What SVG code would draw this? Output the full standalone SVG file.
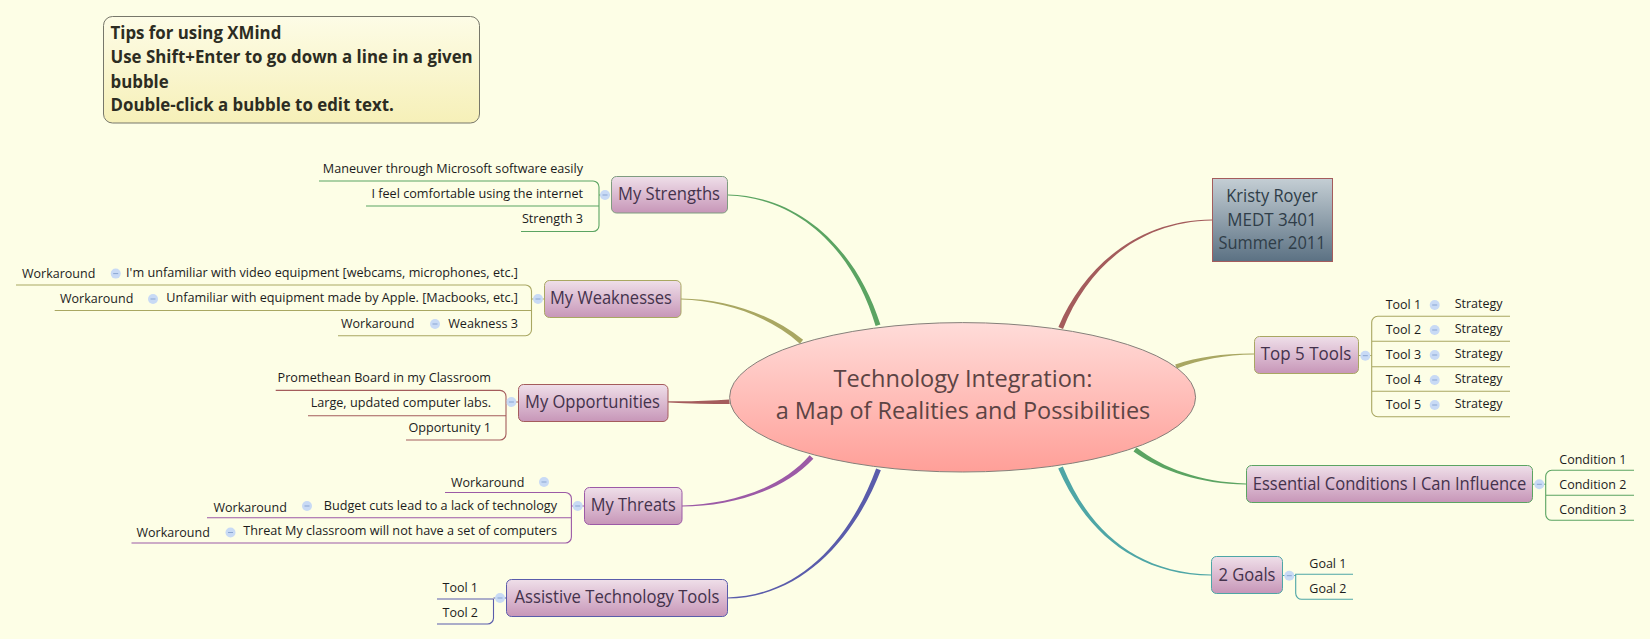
<svg xmlns="http://www.w3.org/2000/svg" xmlns:xlink="http://www.w3.org/1999/xlink" width="1650" height="639" viewBox="0 0 1650 639">
<style>
text{font-family:"Open Sans","Noto Sans","Liberation Sans",sans-serif}
.s{font-size:12.5px;fill:#1c1c1c}
.e{font-size:12.65px;text-anchor:end}
.n{font-size:17.5px;fill:#44324c;text-anchor:middle}
.k{font-size:17.5px;fill:#2f3d48;text-anchor:middle}
.c{font-size:24px;fill:#5c4444;text-anchor:middle}
.t{font-size:16.85px;font-weight:700;fill:#2c2c22}
.l{fill:none;stroke-width:1.1}
.green{stroke:#5ba462}.olive{stroke:#a9a762}.red{stroke:#a45c5c}.purple{stroke:#9c5aa6}.blue{stroke:#5a5cab}.teal{stroke:#4ea6a6}
.fgreen{fill:#5ba462}.folive{fill:#a9a762}.fred{fill:#a45c5c}.fpurple{fill:#9c5aa6}.fblue{fill:#5a5cab}.fteal{fill:#4ea6a6}
</style>
<defs>
<linearGradient id="g" x1="0" y1="0" x2="0" y2="1"><stop offset="0" stop-color="#efdfe9"/><stop offset="1" stop-color="#c796b8"/></linearGradient>
<linearGradient id="ge" x1="0" y1="0" x2="0" y2="1"><stop offset="0" stop-color="#ffdcd9"/><stop offset="1" stop-color="#ff9f98"/></linearGradient>
<linearGradient id="gk" x1="0" y1="0" x2="0" y2="1"><stop offset="0" stop-color="#c4ced4"/><stop offset="1" stop-color="#5b7183"/></linearGradient>
<linearGradient id="gt" x1="0" y1="0" x2="0" y2="1"><stop offset="0" stop-color="#fdfce6"/><stop offset="1" stop-color="#f6f0b8"/></linearGradient>
<g id="o"><circle r="5" fill="#c8daf5"/><path d="M-2.5 0H2.5" stroke="#8ba6d2" stroke-width="1"/></g>
</defs>
<rect width="1650" height="639" fill="#fdfee6"/>
<g id="connectors">
<path class="fgreen" d="M728 195.600C799.640 197.830 853.540 250.880 875.610 326.030L880.390 324.570C856.460 249.120 800.360 196.170 728 194.400Z"/>
<path class="folive" d="M681 299.600C724.850 300.890 767.190 315.490 799.910 343.630L803.090 339.770C768.810 312.510 725.150 299.110 681 298.400Z"/>
<path class="fred" d="M668 402.400C690 403.300 710 404 729.700 404.100L729.300 399.500C710 400.800 690 401.500 668 401.200Z"/>
<path class="fpurple" d="M682 506.600C730.140 506.390 782.870 491.460 813.370 458.670L809.630 455.330C781.130 488.540 729.860 504.610 682 505.400Z"/>
<path class="fblue" d="M727 598.600C800.380 597.820 853.450 540.890 880.840 470.180L876.160 468.420C850.550 539.110 799.620 596.180 727 597.400Z"/>
<path class="fred" d="M1212 220.600C1140.310 221.350 1087.370 267.010 1063.010 328.950L1058.390 327.050C1084.630 264.990 1139.690 219.650 1212 219.400Z"/>
<path class="folive" d="M1254 354.600C1225 354.900 1200.400 359.600 1176.800 368.600L1175.200 364.400C1199.600 356.400 1225 353.100 1254 353.400Z"/>
<path class="fgreen" d="M1246 483.400C1200.150 482.110 1163.780 468.490 1136.480 447.480L1133.520 451.520C1162.220 471.510 1199.850 483.890 1246 484.600Z"/>
<path class="fteal" d="M1211 574.400C1135.310 573.150 1088.390 529.030 1062.800 466.520L1058.200 468.480C1085.610 530.970 1134.690 574.850 1211 575.600Z"/>
<path class="l green" d="M319 181H593a6 6 0 0 1 6 6V225.500a6 6 0 0 1-6 6H521M366 206H599M599 195H610"/>
<path class="l olive" d="M16 285H525.500a6 6 0 0 1 6 6V329.700a6 6 0 0 1-6 6H338M54.700 310.500H531.500M531.500 299H544"/>
<path class="l red" d="M275.700 390.400H500a6 6 0 0 1 6 6V434a6 6 0 0 1-6 6H406M308 415.700H506M506 402H518"/>
<path class="l purple" d="M445 492.500H565.400a6 6 0 0 1 6 6V537a6 6 0 0 1-6 6H131.500M207 517.700H571.400M571.400 506H584"/>
<path class="l blue" d="M437 599H493.500M437 624H487.500a6 6 0 0 0 6-6V599M493.500 598H506"/>
<path class="l olive" d="M1510 316.300H1377.700a6 6 0 0 0-6 6V410.700a6 6 0 0 0 6 6H1510M1371.700 341.300H1510M1371.700 366.700H1510M1371.700 391.300H1510M1358.700 355.500H1371.700"/>
<path class="l green" d="M1634 470.300H1551.700a6 6 0 0 0-6 6V514.300a6 6 0 0 0 6 6H1634M1545.700 495.300H1634M1532.700 484.300H1545.700"/>
<path class="l teal" d="M1353 574.300H1295.700V593.300a6 6 0 0 0 6 6H1353M1282.700 575.500H1295.700"/>
</g>
<g id="tips"><rect x="103.500" y="16.500" width="376" height="106.500" rx="9" fill="url(#gt)" stroke="#77776a"/>
<text class="t" x="110.500" y="39">Tips for using XMind</text>
<text class="t" x="110.500" y="63">Use Shift+Enter to go down a line in a given</text>
<text class="t" x="110.500" y="87.500">bubble</text>
<text class="t" x="110.500" y="111">Double-click a bubble to edit text.</text></g>
<g id="central"><ellipse cx="962.600" cy="397.300" rx="233" ry="74.700" fill="url(#ge)" stroke="#85807a"/>
<text class="c" x="963" y="387" textLength="259" lengthAdjust="spacingAndGlyphs">Technology Integration:</text>
<text class="c" x="963" y="419" textLength="374.600" lengthAdjust="spacingAndGlyphs">a Map of Realities and Possibilities</text></g>
<g id="strengths"><rect x="611.500" y="176.500" width="116" height="36.500" rx="5" fill="url(#g)" stroke="#7f9c80"/><text class="n" x="669" y="199.500" textLength="102" lengthAdjust="spacingAndGlyphs">My Strengths</text>
<use xlink:href="#o" x="605" y="195"/>
<text class="s e" x="583" y="173">Maneuver through Microsoft software easily</text>
<text class="s e" x="583" y="198">I feel comfortable using the internet</text>
<text class="s e" x="583" y="223">Strength 3</text></g>
<g id="weaknesses"><rect x="544.500" y="280.500" width="136.500" height="37" rx="5" fill="url(#g)" stroke="#a9a762"/><text class="n" x="611" y="304" textLength="122" lengthAdjust="spacingAndGlyphs">My Weaknesses</text>
<use xlink:href="#o" x="538" y="299"/>
<text class="s" x="22" y="278">Workaround</text><use xlink:href="#o" x="115.700" y="273.600"/><text class="s e" x="518" y="277">I'm unfamiliar with video equipment [webcams, microphones, etc.]</text>
<text class="s" x="60" y="303">Workaround</text><use xlink:href="#o" x="153" y="299"/><text class="s e" x="518" y="302">Unfamiliar with equipment made by Apple. [Macbooks, etc.]</text>
<text class="s" x="341" y="328">Workaround</text><use xlink:href="#o" x="435" y="324"/><text class="s e" x="518" y="328">Weakness 3</text></g>
<g id="opportunities"><rect x="518.500" y="384.500" width="149.500" height="37" rx="5" fill="url(#g)" stroke="#a45c5c"/><text class="n" x="592.500" y="407.500" textLength="135" lengthAdjust="spacingAndGlyphs">My Opportunities</text>
<use xlink:href="#o" x="511.400" y="402"/>
<text class="s e" x="491" y="382">Promethean Board in my Classroom</text>
<text class="s e" x="491" y="407">Large, updated computer labs.</text>
<text class="s e" x="491" y="432">Opportunity 1</text></g>
<g id="threats"><rect x="584.500" y="487.500" width="97.500" height="37" rx="5" fill="url(#g)" stroke="#9c5aa6"/><text class="n" x="633.300" y="511" textLength="85" lengthAdjust="spacingAndGlyphs">My Threats</text>
<use xlink:href="#o" x="577.700" y="506"/>
<text class="s" x="451" y="487">Workaround</text><use xlink:href="#o" x="544" y="482"/>
<text class="s" x="213.500" y="511.500">Workaround</text><use xlink:href="#o" x="307" y="506"/><text class="s e" x="557" y="510">Budget cuts lead to a lack of technology</text>
<text class="s" x="136.500" y="536.500">Workaround</text><use xlink:href="#o" x="230.500" y="532.500"/><text class="s e" x="557" y="535">Threat My classroom will not have a set of computers</text></g>
<g id="assistive"><rect x="506.500" y="579.500" width="221" height="37" rx="5" fill="url(#g)" stroke="#5a5cab"/><text class="n" x="617" y="603" textLength="205" lengthAdjust="spacingAndGlyphs">Assistive Technology Tools</text>
<use xlink:href="#o" x="500" y="598"/>
<text class="s" x="442.500" y="591.500">Tool 1</text><text class="s" x="442.500" y="616.500">Tool 2</text></g>
<g id="kristy"><rect x="1212.500" y="178.500" width="120" height="83" fill="url(#gk)" stroke="#a45c5c"/>
<text class="k" x="1272" y="202" textLength="91.500" lengthAdjust="spacingAndGlyphs">Kristy Royer</text><text class="k" x="1272" y="226" textLength="89.500" lengthAdjust="spacingAndGlyphs">MEDT 3401</text><text class="k" x="1272" y="249" textLength="107" lengthAdjust="spacingAndGlyphs">Summer 2011</text></g>
<g id="top5"><rect x="1254.500" y="336.500" width="104" height="37" rx="5" fill="url(#g)" stroke="#a9a762"/><text class="n" x="1306" y="360" textLength="90.500" lengthAdjust="spacingAndGlyphs">Top 5 Tools</text>
<use xlink:href="#o" x="1365.300" y="355.700"/>
<text class="s" x="1385.700" y="309">Tool 1</text><use xlink:href="#o" x="1434.700" y="305"/><text class="s" x="1454.700" y="308">Strategy</text>
<text class="s" x="1385.700" y="334">Tool 2</text><use xlink:href="#o" x="1434.700" y="330"/><text class="s" x="1454.700" y="333">Strategy</text>
<text class="s" x="1385.700" y="359">Tool 3</text><use xlink:href="#o" x="1434.700" y="355"/><text class="s" x="1454.700" y="358">Strategy</text>
<text class="s" x="1385.700" y="384">Tool 4</text><use xlink:href="#o" x="1434.700" y="380"/><text class="s" x="1454.700" y="383">Strategy</text>
<text class="s" x="1385.700" y="409">Tool 5</text><use xlink:href="#o" x="1434.700" y="405"/><text class="s" x="1454.700" y="408">Strategy</text></g>
<g id="essential"><rect x="1246.500" y="465.500" width="286" height="37" rx="5" fill="url(#g)" stroke="#5ba462"/><text class="n" x="1389.500" y="490" textLength="273.600" lengthAdjust="spacingAndGlyphs">Essential Conditions I Can Influence</text>
<use xlink:href="#o" x="1539.300" y="484.300"/>
<text class="s" x="1559.300" y="463.500">Condition 1</text><text class="s" x="1559.300" y="488.500">Condition 2</text><text class="s" x="1559.300" y="513.500">Condition 3</text></g>
<g id="goals"><rect x="1211.500" y="556.500" width="71" height="37" rx="5" fill="url(#g)" stroke="#4ea6a6"/><text class="n" x="1247" y="581" textLength="57" lengthAdjust="spacingAndGlyphs">2 Goals</text>
<use xlink:href="#o" x="1289.300" y="575.700"/>
<text class="s" x="1309.300" y="568">Goal 1</text><text class="s" x="1309.300" y="593">Goal 2</text></g>
</svg>
